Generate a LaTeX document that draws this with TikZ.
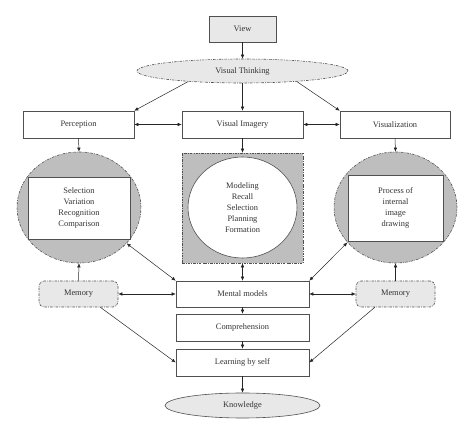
\documentclass[tikz,border=0pt]{standalone}
\usepackage{fontspec}
\setmainfont{Liberation Serif}
\usetikzlibrary{shapes.geometric,arrows.meta,calc}
\definecolor{linec}{RGB}{80,80,80}
\definecolor{lgray}{RGB}{232,232,232}
\definecolor{dgray}{RGB}{190,190,190}
\begin{document}
\begin{tikzpicture}[x=1pt,y=-1pt,
  every node/.style={font=\fontsize{8.4}{11}\selectfont, text=black!80, inner sep=0pt, align=center},
  box/.style={draw=linec, line width=0.6pt, fill=white, rectangle},
  dashdot/.style={draw=linec, line width=0.6pt, dash pattern=on 2.5pt off 1.2pt on 0.7pt off 1.2pt},
  oval/.style={ellipse},
  arr/.style={-{Latex[length=4pt,width=3.5pt]}, draw=black!85, line width=0.5pt},
  darr/.style={{Latex[length=4pt,width=3.5pt]}-{Latex[length=4pt,width=3.5pt]}, draw=black!85, line width=0.5pt}]
\useasboundingbox (0,0) rectangle (474,435);
% top
\node[box, fill=lgray, minimum width=67pt, minimum height=26pt] (view) at (242.5,29) {View};
\node[oval, dashdot, fill=lgray, minimum width=211pt, minimum height=24pt] (vt) at (242.5,71) {Visual Thinking};
\node[box, minimum width=111pt, minimum height=27pt] (per) at (78.5,124.5) {Perception};
\node[box, minimum width=121pt, minimum height=27pt] (vi) at (242.5,124.5) {Visual Imagery};
\node[box, minimum width=110pt, minimum height=27pt] (viz) at (395,124.5) {Visualization};
% middle row
\node[oval, dashdot, fill=dgray, minimum width=124pt, minimum height=111pt] (lc) at (79,207.5) {};
\node[box, minimum width=102pt, minimum height=62pt] (lin) at (79,208) {Selection\\Variation\\Recognition\\Comparison};
\node[rectangle, dashdot, fill=dgray, minimum width=121pt, minimum height=110pt] (sq) at (242.5,208) {};
\node[oval, draw=linec, line width=0.6pt, fill=white, minimum width=109pt, minimum height=101pt] (cin) at (242.5,207.5) {Modeling\\Recall\\Selection\\Planning\\Formation};
\node[oval, dashdot, fill=dgray, minimum width=123pt, minimum height=111pt] (rc) at (395.5,207.5) {};
\node[box, minimum width=95pt, minimum height=66pt] (rin) at (395.5,208) {Process of\\internal\\image\\drawing};
% lower
\node[rectangle, dashdot, rounded corners=5pt, fill=lgray, minimum width=79pt, minimum height=26pt] (meml) at (78.5,294) {Memory};
\node[rectangle, dashdot, rounded corners=5pt, fill=lgray, minimum width=79pt, minimum height=26pt] (memr) at (395.5,294) {Memory};
\node[box, minimum width=133pt, minimum height=26pt] (mm) at (242.5,294) {Mental models};
\node[box, minimum width=133pt, minimum height=27pt] (comp) at (242.5,327.5) {Comprehension};
\node[box, minimum width=133pt, minimum height=27pt] (learn) at (242.5,362.5) {Learning by self};
\node[oval, draw=linec, line width=0.6pt, fill=lgray, minimum width=155pt, minimum height=25pt] (know) at (242.5,405.5) {Knowledge};
% connectors
\draw[arr] (view.south) -- (vt.north);
\draw[arr] (vt.191) -- (per.north east);
\draw[arr] (vt.south) -- (vi.north);
\draw[arr] (vt.349) -- (viz.north west);
\draw[darr] (per.east) -- (vi.west);
\draw[darr] (vi.east) -- (viz.west);
\draw[arr] (per.south) -- (lc.north);
\draw[arr] (vi.south) -- (sq.north);
\draw[arr] (viz.south) -- (rc.north);
\draw[arr] (meml.north) -- (lc.south);
\draw[arr] (memr.north) -- (rc.south);
\draw[darr] (sq.south) -- (mm.north);
\draw[darr] (lc.323.5) -- (mm.north west);
\draw[darr] (rc.216.5) -- (mm.north east);
\draw[darr] (meml.east) -- (mm.west);
\draw[darr] (mm.east) -- (memr.west);
\draw[arr] ($(meml.south)!0.55!(meml.south east)$) -- (learn.west);
\draw[arr] ($(memr.south)!0.52!(memr.south west)$) -- (learn.east);
\draw[arr] (mm.south) -- (comp.north);
\draw[arr] (comp.south) -- (learn.north);
\draw[arr] (learn.south) -- (know.north);
\end{tikzpicture}
\end{document}
